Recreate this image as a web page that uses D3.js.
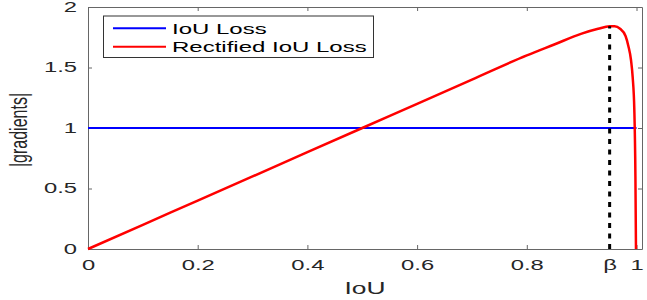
<!DOCTYPE html>
<html>
<head>
<meta charset="utf-8">
<script src="https://cdn.jsdelivr.net/npm/d3@7"></script>
<style>
  body { margin: 0; background: #fff; }
  text { font-family: "Liberation Sans", Arial, sans-serif; fill: #262626; }
</style>
</head>
<body>
<div id="chart"></div>
<script>
var beta = 0.951;

var iouX = [0, 1];
var iouY = [1, 1];

var rectX = [0, 0.1, 0.2, 0.3, 0.4, 0.5, 0.6, 0.7, 0.8, 0.85, 0.9, 0.93, 0.951, 0.96, 0.97, 0.98, 0.985, 0.99, 0.993, 0.996, 0.998, 0.999];
var rectY = [0, 0.2, 0.4, 0.6, 0.8, 1.0, 1.2, 1.4, 1.6, 1.69, 1.78, 1.82, 1.84, 1.84, 1.82, 1.76, 1.68, 1.56, 1.42, 1.15, 0.6, 0];

var xTicks = [0, 0.2, 0.4, 0.6, 0.8, beta, 1];
var xTickLabels = ["0", "0.2", "0.4", "0.6", "0.8", "β", "1"];
var yTicks = [0, 0.5, 1, 1.5, 2];
var yTickLabels = ["0", "0.5", "1", "1.5", "2"];

var seriesNames = ["IoU Loss", "Rectified IoU Loss"];
var seriesColors = ["#0000ff", "#ff0000"];

var width = 647,
    height = 300,
    margin = { top: 7, right: 5, bottom: 51, left: 88 };

var sx = 1.7; // text in the picture is stretched horizontally

var x = d3.scaleLinear()
    .domain([0, 1.01])
    .range([margin.left, width - margin.right]);

var y = d3.scaleLinear()
    .domain([0, 2])
    .range([height - margin.bottom, margin.top]);

var svg = d3.select("#chart")
    .append("svg")
    .attr("width", width)
    .attr("height", height);

// bottom axis with labels
var xAxis = svg.append("g")
    .attr("transform", "translate(0," + y(0) + ")")
    .call(d3.axisBottom(x)
        .tickValues(xTicks)
        .tickFormat(function(d, i) { return xTickLabels[i]; })
        .tickSizeInner(-4)
        .tickSizeOuter(0)
        .tickPadding(11));

xAxis.selectAll("text")
    .style("font-size", "14px")
    .attr("transform", "scale(" + sx + ",1)");

// left axis with labels
var yAxis = svg.append("g")
    .attr("transform", "translate(" + x(0) + ",0)")
    .call(d3.axisLeft(y)
        .tickValues(yTicks)
        .tickFormat(function(d, i) { return yTickLabels[i]; })
        .tickSizeInner(-4)
        .tickSizeOuter(0)
        .tickPadding(0));

yAxis.selectAll("text")
    .style("font-size", "14px")
    .attr("x", -11 / sx)
    .attr("transform", "scale(" + sx + ",1)");

// top and right axes, ticks only
svg.append("g")
    .attr("transform", "translate(0," + y(2) + ")")
    .call(d3.axisTop(x).tickValues(xTicks.filter(function(d) { return d !== beta; }))
        .tickFormat("").tickSizeInner(-4).tickSizeOuter(0));

svg.append("g")
    .attr("transform", "translate(" + x.range()[1] + ",0)")
    .call(d3.axisRight(y).tickValues(yTicks).tickFormat("").tickSizeInner(-4).tickSizeOuter(0));

svg.selectAll(".domain, .tick line").attr("stroke", "#666");

// series
var line = d3.line()
    .x(function(d) { return x(d[0]); })
    .y(function(d) { return y(d[1]); });

svg.append("path")
    .datum(d3.zip(iouX, iouY))
    .attr("fill", "none")
    .attr("stroke", seriesColors[0])
    .attr("stroke-width", 2)
    .attr("d", line);

svg.append("path")
    .datum(d3.zip(rectX, rectY))
    .attr("fill", "none")
    .attr("stroke", seriesColors[1])
    .attr("stroke-width", 2.5)
    .attr("d", line.curve(d3.curveMonotoneX));

// beta marker
svg.append("line")
    .attr("x1", x(beta)).attr("x2", x(beta))
    .attr("y1", y(0)).attr("y2", y(d3.max(rectY)))
    .attr("stroke", "#000")
    .attr("stroke-width", 3)
    .attr("stroke-dasharray", "5,5.5");

// axis titles
svg.append("text")
    .attr("transform", "translate(" + ((x.range()[0] + x.range()[1]) / 2) + ",294) scale(1.55,1)")
    .attr("text-anchor", "middle")
    .style("font-size", "17px")
    .text("IoU");

svg.append("text")
    .attr("transform", "translate(27," + ((y(0) + y(2)) / 2 + 2) + ") rotate(-90) scale(1.0,1.5)")
    .attr("text-anchor", "middle")
    .style("font-size", "16px")
    .text("|gradients|");

// legend
var legend = svg.append("g");

legend.append("rect")
    .attr("x", 103.5).attr("y", 16)
    .attr("width", 270).attr("height", 41.5)
    .attr("fill", "#fff")
    .attr("stroke", "#333")
    .attr("stroke-width", 1);

seriesNames.forEach(function(name, i) {
    var ly = 28.3 + i * 18.4;
    legend.append("line")
        .attr("x1", 113).attr("x2", 166)
        .attr("y1", ly).attr("y2", ly)
        .attr("stroke", seriesColors[i])
        .attr("stroke-width", 2);
    legend.append("text")
        .attr("transform", "translate(172," + (ly + 5.5) + ") scale(1.6,1)")
        .style("font-size", "15px")
        .style("fill", "#000")
        .text(name);
});
</script>
</body>
</html>
